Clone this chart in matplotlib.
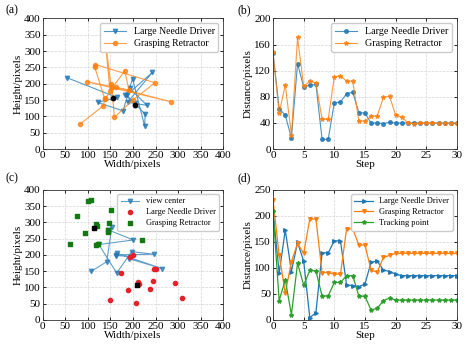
import matplotlib
matplotlib.use("Agg")
import matplotlib.pyplot as plt
import numpy as np

plt.rcParams['font.family'] = ['Liberation Serif', 'DejaVu Serif']
plt.rcParams['mathtext.fontset'] = 'stix'

# ---------------- Panel (a) ----------------
a_lnd_x = [55, 165, 122, 178, 199, 226, 227, 186, 243, 188, 231, 193, 183, 205]
a_lnd_y = [218, 158, 143, 117, 216, 70, 107, 165, 235, 143, 134, 186, 165, 140]
a_gr_x = [83, 134, 138, 115, 117, 249, 199, 159, 153, 151, 138, 149, 182, 191, 99, 284, 162, 137]
a_gr_y = [77, 132, 152, 252, 259, 203, 150, 97, 189, 198, 342, 179, 239, 181, 206, 145, 189, 155]
a_black_x = [155, 205]
a_black_y = [155, 135]

# ---------------- Panel (b) ----------------
steps = list(range(31))
b_lnd = [147, 62, 52, 17, 131, 95, 98, 99, 15, 15, 71, 72, 85, 87, 56, 55, 40, 40, 39, 41,
         40, 40, 40, 40, 40, 40, 40, 40, 40, 40, 40]
b_gr = [148, 55, 98, 22, 171, 96, 104, 101, 46, 46, 111, 112, 104, 104, 43, 43, 50, 51, 79, 81,
        52, 49, 40, 39, 40, 40, 40, 40, 40, 40, 40]

# ---------------- Panel (c) ----------------
c_vc_x = [107, 142, 153, 145, 201, 120, 124, 164, 197, 247, 162, 165, 264, 192, 195, 163]
c_vc_y = [149, 179, 285, 277, 246, 231, 233, 144, 210, 202, 200, 205, 158, 188, 195, 198]
c_lnd_x = [173, 150, 188, 194, 201, 207, 212, 212, 214, 238, 245, 247, 252, 294, 309]
c_lnd_y = [144, 62, 92, 192, 200, 51, 118, 113, 110, 95, 120, 157, 156, 113, 68]
c_gr_x = [60, 77, 93, 101, 106, 119, 120, 119, 123, 147, 145, 145, 151, 219]
c_gr_y = [235, 321, 267, 366, 368, 295, 290, 230, 232, 298, 276, 272, 337, 247]
c_black_x = [113, 210]
c_black_y = [283, 108]

# ---------------- Panel (d) ----------------
d_lnd = [210, 90, 173, 93, 149, 113, 4, 14, 129, 129, 152, 152, 67, 66, 64, 69, 111, 113, 96, 93,
         88, 85, 85, 85, 85, 85, 85, 85, 85, 85, 85]
d_gr = [231, 125, 51, 112, 147, 128, 194, 194, 91, 91, 88, 88, 175, 175, 144, 144, 95, 92, 120, 124,
        128, 128, 128, 128, 128, 128, 128, 128, 128, 128, 128]
d_tp = [210, 37, 77, 10, 109, 67, 95, 94, 46, 46, 72, 72, 85, 85, 46, 45, 19, 22, 37, 42,
        38, 38, 38, 38, 38, 38, 38, 38, 38, 38, 38]

BLUE = '#1f77b4'
ORANGE = '#ff7f0e'
GREEN = '#2ca02c'
TFS = 8

fig = plt.figure(figsize=(4.74, 3.55), dpi=100)
axa = fig.add_axes([0.090, 0.580, 0.381, 0.368])
axb = fig.add_axes([0.576, 0.580, 0.388, 0.368])
axc = fig.add_axes([0.090, 0.099, 0.381, 0.366])
axd = fig.add_axes([0.576, 0.099, 0.388, 0.366])

def style(ax):
    ax.grid(True, color='#d4d4d4', linestyle='--', linewidth=0.5)
    ax.set_axisbelow(True)
    ax.tick_params(direction='in', labelsize=TFS, length=2.5, width=0.6, pad=1.5,
                   top=True, right=True)
    for s in ax.spines.values():
        s.set_linewidth(0.6)
        s.set_color('#333333')

# (a)
axa.plot(a_lnd_x, a_lnd_y, '-v', color=BLUE, lw=0.8, ms=3.2, alpha=0.75, label='Large Needle Driver')
axa.plot(a_gr_x, a_gr_y, '-o', color=ORANGE, lw=0.8, ms=3.0, alpha=0.75, label='Grasping Retractor')
axa.scatter(a_black_x, a_black_y, color='black', s=10, zorder=5)
axa.set_xlim(0, 400); axa.set_ylim(0, 400)
axa.set_xticks(range(0, 401, 50)); axa.set_yticks(range(0, 401, 50))
axa.set_xlabel('Width/pixels', fontsize=TFS, labelpad=0)
axa.set_ylabel('Height/pixels', fontsize=TFS, labelpad=1)
style(axa)
axa.legend(loc='upper right', fontsize=7, handlelength=2.2, borderpad=0.4, labelspacing=0.3,
           framealpha=1, edgecolor='#cccccc')

# (b)
axb.plot(steps, b_lnd, '-o', color=BLUE, lw=0.8, ms=2.6, alpha=0.8, label='Large Needle Driver')
axb.plot(steps, b_gr, '-*', color=ORANGE, lw=0.8, ms=3.2, alpha=0.8, label='Grasping Retractor')
axb.set_xlim(0, 30); axb.set_ylim(0, 200)
axb.set_xticks(range(0, 31, 5)); axb.set_yticks(range(0, 201, 40))
axb.set_xlabel('Step', fontsize=TFS, labelpad=0)
axb.set_ylabel('Distance/pixels', fontsize=TFS, labelpad=1)
style(axb)
axb.legend(loc='upper right', fontsize=7.2, handlelength=2.2, borderpad=0.4, labelspacing=0.3,
           framealpha=1, edgecolor='#cccccc')

# (c)
axc.plot(c_vc_x, c_vc_y, '-v', color=BLUE, lw=0.8, ms=3.2, alpha=0.7, label='view center')
axc.scatter(c_lnd_x, c_lnd_y, color='#e8202a', s=9, marker='o', label='Large Needle Driver', zorder=3)
axc.scatter(c_gr_x, c_gr_y, color='#137a13', s=11, marker='s', label='Grasping Retractor', zorder=3)
axc.scatter(c_black_x, c_black_y, color='black', s=12, marker='s', zorder=5)
axc.set_xlim(0, 400); axc.set_ylim(0, 400)
axc.set_xticks(range(0, 401, 50)); axc.set_yticks(range(0, 401, 50))
axc.set_xlabel('Width/pixels', fontsize=TFS, labelpad=0)
axc.set_ylabel('Height/pixels', fontsize=TFS, labelpad=1)
style(axc)
axc.legend(loc='upper right', fontsize=6, handlelength=2.2, borderpad=0.4, labelspacing=0.35,
           framealpha=1, edgecolor='#cccccc')

# (d)
axd.plot(steps, d_lnd, '->', color=BLUE, lw=0.9, ms=2.6, label='Large Needle Driver')
axd.plot(steps, d_gr, '-v', color=ORANGE, lw=0.9, ms=2.6, label='Grasping Retractor')
axd.plot(steps, d_tp, '-*', color=GREEN, lw=0.9, ms=3.0, label='Tracking point')
axd.set_xlim(0, 30); axd.set_ylim(0, 250)
axd.set_xticks(range(0, 31, 5)); axd.set_yticks(range(0, 251, 50))
axd.set_xlabel('Step', fontsize=TFS, labelpad=0)
axd.set_ylabel('Distance/pixels', fontsize=TFS, labelpad=1)
style(axd)
axd.legend(loc='upper right', fontsize=6, handlelength=2.2, borderpad=0.4, labelspacing=0.35,
           framealpha=1, edgecolor='#cccccc')

for lab, x, y in [('(a)', 0.012, 0.972), ('(b)', 0.502, 0.972), ('(c)', 0.012, 0.497), ('(d)', 0.502, 0.497)]:
    fig.text(x, y, lab, fontsize=8.5, ha='left', va='center')

fig.savefig('out.png', dpi=100)
